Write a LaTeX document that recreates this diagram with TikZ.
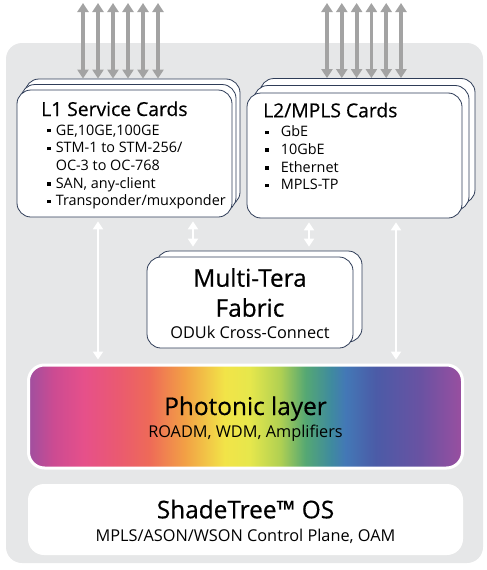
\documentclass[tikz,border=0pt]{standalone}
\usepackage{fontspec}
\setmainfont{Open Sans}
\newfontfamily\headfont[FakeBold=0.5]{Open Sans}
\usetikzlibrary{arrows.meta}
\usetikzlibrary{positioning}
\definecolor{panelgray}{HTML}{E6E7E8}
\definecolor{cardline}{HTML}{2F3D58}
\definecolor{linkgray}{HTML}{A3A3A3}
\definecolor{sp0}{HTML}{9F4F9F}
\definecolor{sp1}{HTML}{CC4B92}
\definecolor{sp2}{HTML}{E6508A}
\definecolor{sp3}{HTML}{EA5A70}
\definecolor{sp4}{HTML}{EE6A58}
\definecolor{sp5}{HTML}{F2A045}
\definecolor{sp6}{HTML}{F2E448}
\definecolor{sp7}{HTML}{E6E74C}
\definecolor{sp8}{HTML}{B0D052}
\definecolor{sp9}{HTML}{55A873}
\definecolor{sp10}{HTML}{3F8B9E}
\definecolor{sp11}{HTML}{4378B6}
\definecolor{sp12}{HTML}{4B5BA7}
\definecolor{sp13}{HTML}{6A52A2}
\definecolor{sp14}{HTML}{9A4FA0}
\pgfdeclarehorizontalshading{spectrum}{100bp}{color(0bp)=(sp0); color(25bp)=(sp0);
  color(27.9bp)=(sp1); color(31.4bp)=(sp2); color(35.4bp)=(sp3); color(38.9bp)=(sp4);
  color(43bp)=(sp5); color(47.6bp)=(sp6); color(50.5bp)=(sp7); color(54bp)=(sp8);
  color(56.9bp)=(sp9); color(59.8bp)=(sp10); color(61.5bp)=(sp11); color(65bp)=(sp12);
  color(70.2bp)=(sp13); color(75bp)=(sp14); color(100bp)=(sp14)}
\newcommand{\bsq}{\rule[2.6pt]{3.6pt}{3.6pt}}
\tikzset{panel/.style={rectangle,fill=panelgray,rounded corners=16pt,minimum width=477pt,minimum height=520pt},
  card/.style={rectangle,draw=cardline,fill=white,line width=0.8pt,rounded corners=14pt,inner sep=0pt},
  l1 size/.style={minimum width=215pt,minimum height=127pt},
  l2 size/.style={minimum width=215pt,minimum height=125pt},
  fab size/.style={minimum width=206pt,minimum height=91pt},
  layer/.style={rectangle,fill=white,rounded corners=16pt,inner sep=0pt},
  link/.style={draw=linkgray,line width=3.8pt,{Triangle[width=11pt,length=9pt]}-{Triangle[width=11pt,length=9pt]}},
  feed/.style={draw=white,line width=2.8pt,{Triangle[width=10pt,length=8pt]}-{Triangle[width=10pt,length=8pt]},shorten >=4pt,shorten <=4pt},
  card title/.style={inner sep=0pt,font=\headfont\fontsize{19.3}{22}\selectfont},
  items/.style={inner sep=0pt,font=\fontsize{14.4}{17.7}\selectfont},
  big title/.style={inner sep=0pt,font=\headfont\fontsize{24.4}{28}\selectfont},
  sub title/.style={inner sep=0pt,font=\fontsize{16.3}{19}\selectfont},}

\begin{document}
\begin{tikzpicture}[x=1pt,y=-1pt]
    \useasboundingbox (0,0) rectangle (487,570);
    \node[panel] (bg) at (244.5,303) {};

    % L1 cards, three deep
    \node[card,l1 size] (l1c) at (132.5,142.5) {};
    \node[card,l1 size] (l1b) at (128.5,148) {};
    \node[card,l1 size] (l1) at (124.5,153.5) {};
    \node[card title,anchor=base west] (l1t) at (41,116) {L1 Service Cards};
    \node[items,anchor=base west] (l1i) at (47,135) {\begin{tabular}[t]{@{}l@{\hspace{5pt}}l@{}}
      \bsq & GE,10GE,100GE\\
      \bsq & STM-1 to STM-256/\\
           & OC-3 to OC-768\\
      \bsq & SAN, any-client\\
      \bsq & Transponder/muxponder
    \end{tabular}};

    % L2 cards, three deep
    \node[card,l2 size] (l2c) at (367.5,141) {};
    \node[card,l2 size] (l2b) at (361.5,148) {};
    \node[card,l2 size] (l2) at (354.5,155.5) {};
    \node[card title,anchor=base west] (l2t) at (263,117.3) {L2/MPLS Cards};
    \node[items,anchor=base west] (l2i) at (265,136.7) {\begin{tabular}[t]{@{}l@{\hspace{12pt}}l@{}}
      \bsq & GbE\\
      \bsq & 10GbE\\
      \bsq & Ethernet\\
      \bsq & MPLS-TP
    \end{tabular}};

    % switching fabric
    \node[card,fab size] (fabb) at (259,296.5) {};
    \node[card,fab size] (fab) at (250,302.5) {};
    \node[big title,anchor=base] (fab1) at (250,286.7) {Multi-Tera};
    \node[big title,anchor=base] (fab2) at (250,316.7) {Fabric};
    \node[sub title,anchor=base] (fab3) at (250,338.3) {ODUk Cross-Connect};

    % photonic and OS layers
    \node[layer,shade,shading=spectrum,draw=white,line width=3pt,minimum width=434pt,minimum height=103pt] (ph) at (245.5,416.5) {};
    \node[big title,anchor=base] (ph1) at (245.5,415) {Photonic layer};
    \node[sub title,anchor=base] (ph2) at (245.5,437.3) {ROADM, WDM, Amplifiers};
    \node[layer,minimum width=435pt,minimum height=71pt] (os) at (245.5,519.5) {};
    \node[big title,anchor=base] (os1) at (245.5,518.3) {ShadeTree™ OS};
    \node[sub title,anchor=base] (os2) at (245.5,541.7) {MPLS/ASON/WSON Control Plane, OAM};

    % client ports
    \foreach \i in {0,...,5} {
      \coordinate (lp\i) at (83+15*\i,3);
      \coordinate (rp\i) at (327+14.8*\i,3);
      \draw[link] (lp\i) -- (lp\i |- l1c.north);
      \draw[link] (rp\i) -- (rp\i |- l2c.north);
    }

    % backplane links
    \coordinate (a1) at (98,0);
    \coordinate (a2) at (193,0);
    \coordinate (a3) at (309,0);
    \coordinate (a4) at (396,0);
    \draw[feed] (a1 |- l1.south) -- (a1 |- ph.north);
    \draw[feed] (a2 |- l1.south) -- (a2 |- fabb.north);
    \draw[feed] (a3 |- l2.south) -- (a3 |- fabb.north);
    \draw[feed] (a4 |- l2.south) -- (a4 |- ph.north);
  \end{tikzpicture}
\end{document}
